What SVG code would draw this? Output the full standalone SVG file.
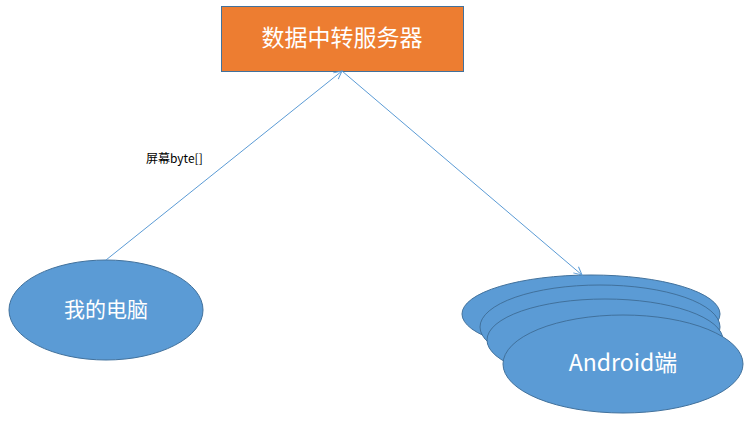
<svg xmlns="http://www.w3.org/2000/svg" width="756" height="433" viewBox="0 0 756 433">
<style>
.e{fill:#5b9bd5;stroke:#41719c;stroke-width:1}
.t{fill:#fff;font-family:"Noto Sans CJK SC","Noto Sans",sans-serif;text-anchor:middle}
.c{stroke:#5b9bd5;stroke-width:1;fill:none}
</style>
<defs><marker id="a" markerWidth="10" markerHeight="10" refX="9" refY="5" orient="auto" markerUnits="userSpaceOnUse"><path d="M1,1 L9,5 L1,9" fill="none" stroke="#5b9bd5"/></marker></defs>
<rect width="756" height="433" fill="#fff"/>
<g id="server"><rect x="221.5" y="6.5" width="242" height="65" fill="#ed7d31" stroke="#41719c"/><text class="t" x="342" y="46" font-size="23">数据中转服务器</text></g>
<g id="pc"><ellipse class="e" cx="106" cy="310" rx="97" ry="50"/><text class="t" x="106" y="317" font-size="21">我的电脑</text></g>
<g id="android">
<ellipse class="e" cx="591" cy="314" rx="129" ry="39"/>
<ellipse class="e" cx="600" cy="327" rx="120" ry="42"/>
<ellipse class="e" cx="605" cy="340" rx="118" ry="41"/>
<ellipse class="e" cx="623" cy="364" rx="120" ry="49"/>
<text class="t" x="623" y="371" font-size="23">Android端</text></g>
<g id="connectors">
<line class="c" x1="106" y1="260" x2="342" y2="71" marker-end="url(#a)"/>
<line class="c" x1="342" y1="71" x2="582" y2="275" marker-end="url(#a)"/>
<text x="146" y="163" font-size="12" font-family="'Noto Sans CJK SC','Noto Sans',sans-serif" fill="#000">屏幕byte[]</text>
</g>
</svg>
